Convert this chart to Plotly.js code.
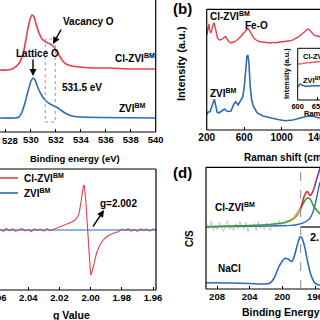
<!DOCTYPE html>
<html><head><meta charset="utf-8">
<script src="https://cdn.plot.ly/plotly-3.0.1.min.js"></script>
<style>html,body{margin:0;padding:0;background:#fff;overflow:hidden}#chart{width:320px;height:320px}</style>
</head><body><div id="chart"></div>
<script>
// ---------- Panel (a) O 1s XPS ----------
const aTicks = [528,530,532,534,536,538,540];
const aBE_cl = [527.52,528.16,528.64,529.12,529.44,529.69,529.93,530.09,530.25,530.41,530.65,530.89,531.21,531.53,531.77,532.01,532.25,532.49,532.81,533.29,533.94,535.14,536.34,537.94,540.0];
const aI_cl  = [62,62,64,70,82,99,113,117,115,108,99,93,90,88,86,82,77,72,68,66,65,64,64,63,63];
const aBE_zvi = [527.52,528.72,529.04,529.28,529.52,529.77,530.01,530.17,530.33,530.57,530.89,531.21,531.53,531.85,532.17,532.49,532.89,533.29,533.94,535.54,540.0];
const aI_zvi  = [14,14,15,20,29,41,51,54,52,44,36,31,28,26,24,21,18,16,15,14.5,14];

// ---------- Panel (b) Raman ----------
const bTicks = [200,600,1000,1400];
const bR_cl = [200,205,212,220,225,230,237,245,252,260,270,280,288,295,305,315,330,345,360,375,390,400,410,425,440,460,480,500,520,540,560,580,600,615,630,640,650,665,680,700,720,740,760,790,820,850,880,910,940,970,1000,1030,1060,1090,1120,1150,1180,1210,1240,1260,1280,1300,1320,1340,1360,1380,1400,1410];
const bI_cl = [98,95,101,105,106,100,97,97,99,103,106,107,103,98,94,92,90.5,90,90.5,91.5,93,93.5,92,89.5,88,87,87.5,88.5,89.5,91,93,95.5,97.5,99.5,101,101.5,100.5,98,95,92.5,90.5,89.5,88.5,88,87.5,87.3,87,87.6,87.2,87.8,88,88.3,88.8,89.2,90.2,91.5,93,95.5,98,100,101,100,97.5,95.5,94.5,94,93.5,93.3];
const bR_zvi = [200,215,235,255,270,282,295,310,330,360,390,420,460,490,510,535,560,585,600,615,630,640,650,665,680,700,740,800,880,960,1040,1120,1200,1260,1320,1380,1410];
const bI_zvi = [15,18,18.3,24,29,30.7,25,18,17,19.5,21,18.5,19,26,28.3,25,29,33.3,42,60,74,75,68,43.3,30,23.3,17,14,12,10.5,9.3,10,12,13.5,14,12.5,12];
// inset
const insTicks = [600,650];
const insR = [600,603,606,610,615,620,625,630,635,640,645,650,655];
const insI_cl = [36,36.3,36.2,36,37,36.8,37.5,37.2,38,37.6,38.3,38,38.6];
const insI_zvi = [13,15,16,15,14,13.5,14,13.5,14.5,14,14.5,14,14.5];

// ---------- Panel (c) EPR ----------
const cTicks = [2.04,2.02,2.00,1.98,1.96];
const cTickText = ['2.04','2.02','2.00','1.98','1.96'];
const cEdgeTick = '2.06';
const cG_cl = [2.058,2.056,2.054,2.052,2.050,2.048,2.046,2.044,2.042,2.040,2.038,2.036,2.034,2.032,2.030,2.028,2.026,2.024,2.022,2.020,2.018,2.016,2.014,2.012,2.010,2.008,2.007,2.006,2.005,2.0045,2.004,2.0035,2.003,2.0025,2.002,2.0015,2.001,2.0005,2.000,1.9995,1.999,1.998,1.997,1.996,1.994,1.992,1.990,1.988,1.985,1.982,1.980,1.978,1.976,1.974,1.972,1.970,1.968,1.966,1.964,1.962,1.960,1.958];
const cI_cl = [0.8,-1.2,1.5,-0.6,1.1,-1.4,0.5,1.3,-0.9,0.4,-1.5,1.2,-0.3,0.9,-1.1,1.4,-0.7,0.6,1.5,2.5,4,5.5,7,8,10,14,20,30,40,45,44,38,28,14,0,-14,-28,-40,-45,-44,-40,-35,-28,-22,-15,-10,-7,-5,-3,-1.5,0.9,-0.5,1.3,-1.0,0.6,-1.4,1.1,-0.3,0.8,-1.2,1.0,-0.6];
const cG_zvi = [2.062,1.958];
const cI_zvi = [0,0];

// ---------- Panel (d) Cl 2p XPS ----------
const dTicks = [208,204,200,196];
const dBE_raw = [209.2,208.95,208.7,208.45,208.2,207.95,207.7,207.45,207.2,206.95,206.7,206.45,206.2,205.95,205.7,205.45,205.2,204.95,204.7,204.45,204.2,203.95,203.7,203.45,203.2,202.95,202.7,202.45,202.2,201.95,201.7,201.45,201.2,200.95,200.7,200.45,200.2,199.95,199.7,199.45,199.2,198.95,198.7,198.45,198.2,197.95];
const dI_raw = [65.5,60.5,67.5,58.5,63.5,59.5,66.5,61.5,57.5,64.5,68.5,59.5,62.5,58.5,65.5,60.5,67.5,61.5,59.5,66.5,57.5,64.5,61.5,65.5,58.5,67.5,60.5,63.5,59.5,66.5,61.5,58.5,65,66.5,62.5,68.5,63.5,67,64.5,69,67,71,70,74,77,80];
const dBE_g = [209.35,206,203,201,200,199.4,199,198.5,198.2,197.9,197.6,197.35,197.1,196.86,196.6,196.35,196.1,195.8,195.39];
const dI_g  = [62.3,63,63.8,65,66,67.3,68.5,71,74,78,83,87,90,91,90,86,82,79,75];
const dBE_b = [209.35,204,200,199,198.5,198,197.5,197,196.6,196.3,196,195.7,195.5,195.39];
const dI_b  = [62.3,62.8,63.2,63.6,64,64.8,65.8,68,71,76,84,95,103,107];
const dBE_env1 = [199.0,198.6,198.2,197.84];
const dI_env1  = [69,71,75,79];
const dBE_env2 = [197.84,197.6,197.35,197.1,196.9,196.75,196.6,196.45,196.3,196.1];
const dI_env2  = [79,85,92,96.5,97.3,95,93.5,94.5,97,101];
const dBE_env3 = [196.1,195.9,195.75,195.6,195.39];
const dI_env3  = [101,107,111,115,121];
const dBE_nacl = [209.35,206.4,204,202.1,201.5,201.0,200.5,200.0,199.7,199.3,198.86,198.6,198.2,197.84,197.6,197.23,196.9,196.5,196.1,195.76,195.39];
const dI_nacl  = [6.3,6,5.5,5,6,11,21,28,30.7,30,27.3,31,43,52,51,41,27,14,7,4.5,4];

// ---------- drawing ----------
const RED='#e5404c', BLUE='#2f6bb3', GREEN='#3a9a3a';
const FF='Liberation Sans, Arial, sans-serif';
const W=320, H=320;
const px = v => v/W, py = v => 1 - v/H;

function ln(x,y,xa,ya,color,w,shape){return {type:'scatter',mode:'lines',x:x,y:y,xaxis:xa,yaxis:ya,cliponaxis:true,line:{color:color,width:w,shape:shape||'linear',smoothing:0.6},hoverinfo:'skip',showlegend:false};}

const data = [
  ln(aBE_cl,aI_cl,'x','y',RED,1.6,'spline'),
  ln(aBE_zvi,aI_zvi,'x','y',BLUE,1.6,'spline'),
  ln(bR_cl,bI_cl,'x2','y2',RED,1.4),
  ln(bR_zvi,bI_zvi,'x2','y2',BLUE,1.6),
  ln(cG_cl,cI_cl,'x3','y3',RED,1.1),
  ln(cG_zvi,cI_zvi,'x3','y3',BLUE,1.1),
  ln(dBE_raw,dI_raw,'x4','y4','#b8b8b8',0.8),
  ln(dBE_b,dI_b,'x4','y4',BLUE,1.4,'spline'),
  ln(dBE_g,dI_g,'x4','y4',GREEN,1.6,'spline'),
  ln(dBE_env1,dI_env1,'x4','y4','#e8a030',1.6,'spline'),
  ln(dBE_env2,dI_env2,'x4','y4','#e02a3a',1.6,'spline'),
  ln(dBE_env3,dI_env3,'x4','y4','#7a3ea0',1.6,'spline'),
  ln(dBE_nacl,dI_nacl,'x4','y4',BLUE,1.6,'spline'),
  ln(insR,insI_cl,'x5','y5',RED,1.2),
  ln(insR,insI_zvi,'x5','y5',BLUE,1.4)
];

function xax(dom,range,ya,tv,tt,fs){return {domain:dom,range:range,anchor:ya,tickmode:'array',tickvals:tv,ticktext:tt,ticks:'inside',ticklen:3,tickwidth:1,tickcolor:'#000',ticklabeloverflow:'allow',showline:false,showgrid:false,zeroline:false,tickfont:{family:FF,size:fs,color:'#000',weight:'bold'},fixedrange:true};}
function yax(dom,range){return {domain:dom,range:range,visible:false,fixedrange:true};}

const aRange = [527.52,540];
const aDomR = 155.7;
// first tick label of panel (a) drawn as a left-anchored text at the div edge
const aTickText = aTicks.map((v,i)=> i===0 ? '' : String(v));

const layout = {
  width:W,height:H,margin:{l:0,r:0,t:0,b:0},paper_bgcolor:'#fff',plot_bgcolor:'rgba(0,0,0,0)',showlegend:false,
  xaxis: xax([0,px(aDomR)],aRange,'y',aTicks,aTickText,9.5),
  yaxis: yax([py(132),1],[0,132]),
  xaxis2: xax([px(206.7),1],[200,1410],'y2',bTicks,bTicks.map(String),10),
  yaxis2: yax([py(130),py(9.3)],[0,120.7]),
  xaxis3: xax([0,px(156)],[2.0581,1.9581],'y3',cTicks,cTickText,9.5),
  yaxis3: yax([py(290),py(169)],[-60,61]),
  xaxis4: xax([px(206),1],[209.35,195.39],'y4',dTicks,dTicks.map(String),9.5),
  yaxis4: yax([py(289),py(167.3)],[0,121.7]),
  xaxis5: xax([px(297.7),1],[600,655],'y5',insTicks,insTicks.map(String),7.5),
  yaxis5: yax([py(100),py(48.3)],[0,51.7]),
  shapes:[],annotations:[]
};
function seg(x0,y0,x1,y1,opt){layout.shapes.push(Object.assign({type:'line',xref:'paper',yref:'paper',x0:px(x0),y0:py(y0),x1:px(x1),y1:py(y1),line:{color:'#000',width:1.2}},opt||{}));}
// borders
seg(0,132,155.7,132); seg(155.7,0,155.7,132);
seg(206.7,9.3,206.7,130); seg(206.7,9.3,320,9.3); seg(206.7,130,320,130);
seg(0,169,156,169); seg(156,169,156,290); seg(0,290,156,290);
seg(206,167.3,206,289); seg(206,167.3,320,167.3); seg(206,289,320,289);
seg(297.7,48.3,297.7,100,{line:{color:'#000',width:1}}); seg(297.7,48.3,320,48.3,{line:{color:'#000',width:1}}); seg(297.7,100,320,100,{line:{color:'#000',width:1}});
// legend lines panel c
seg(0,178,18,178,{line:{color:RED,width:1.6}});
seg(0,193,18,193,{line:{color:BLUE,width:1.6}});
// panel d arrow line
seg(301,227,320,227,{line:{color:'#000',width:1.2}});
// dashed line d
layout.shapes.push({type:'line',xref:'x4',yref:'paper',x0:197.75,x1:197.75,y0:py(289),y1:py(167.3),line:{color:'#888',width:1,dash:'dash'}});
// dotted rect a
layout.shapes.push({type:'rect',xref:'x',yref:'y',x0:531.15,x1:531.95,y0:10,y1:93,line:{color:'#999',width:1,dash:'dot'}});

function T(text,x,y,o){o=o||{};layout.annotations.push({text:text,xref:'paper',yref:'paper',x:px(x),y:py(y),xanchor:o.xa||'center',yanchor:'middle',showarrow:false,textangle:o.ang||0,font:{family:FF,size:o.s||10,color:'#000',weight:'bold'}});}
function ARW(hx,hy,tx,ty){layout.annotations.push({text:'',xref:'paper',yref:'paper',x:px(hx),y:py(hy),ax:tx-hx,ay:ty-hy,showarrow:true,arrowhead:2,arrowsize:1,arrowwidth:1.4,arrowcolor:'#000'});}

// panel a
T(String(aTicks[0]),0,140,{xa:'left',s:9.5});
T('Vacancy O',88,22); T('Lattice O',37.5,53); T('531.5 eV',82,87);
T('Cl-ZVI<sup>BM</sup>',113,58,{xa:'left'}); T('ZVI<sup>BM</sup>',117,108,{xa:'left'});
T('Binding energy (eV)',75,158,{s:9.5});
ARW(53,44,62,28); ARW(33,76,33,58);
// panel b
T('(b)',182,8.5,{s:15});
T('Cl-ZVI<sup>BM</sup>',207.7,16,{xa:'left'}); T('Fe-O',256,25); T('ZVI<sup>BM</sup>',207.7,93,{xa:'left'});
T('Intensity (a.u.)',181,64,{ang:-90,s:11});
T('Raman shift (cm<sup>-1</sup>)',241.7,157,{xa:'left'});
T('Intensity (a.u.)',287,74,{ang:-90,s:7.5});
T('Cl-ZVI<sup>BM</sup>',300.5,56,{xa:'left',s:7.5}); T('ZVI<sup>BM</sup>',300.5,80,{xa:'left',s:7.5});
T('Raman shift (cm<sup>-1</sup>)',302,113,{xa:'left',s:7.5});
// panel c
T(cEdgeTick,-3,297,{s:9.5});
T('Cl-ZVI<sup>BM</sup>',22,178,{xa:'left'}); T('ZVI<sup>BM</sup>',22,193,{xa:'left'});
T('g=2.002',98,203,{xa:'left'}); ARW(104,210,92,228);
T('g Value',71,315,{s:10.5});
// panel d
T('(d)',182,172,{s:15}); T('C/S',189,239,{ang:-90});
T('Cl-ZVI<sup>BM</sup>',213,207,{xa:'left'}); T('NaCl',216,268,{xa:'left'});
T('Binding Energy (eV)',240,312,{xa:'left',s:10.5});
T('2.',308,237,{xa:'left',s:11});

Plotly.newPlot('chart',data,layout,{staticPlot:true,displayModeBar:false});
</script></body></html>
